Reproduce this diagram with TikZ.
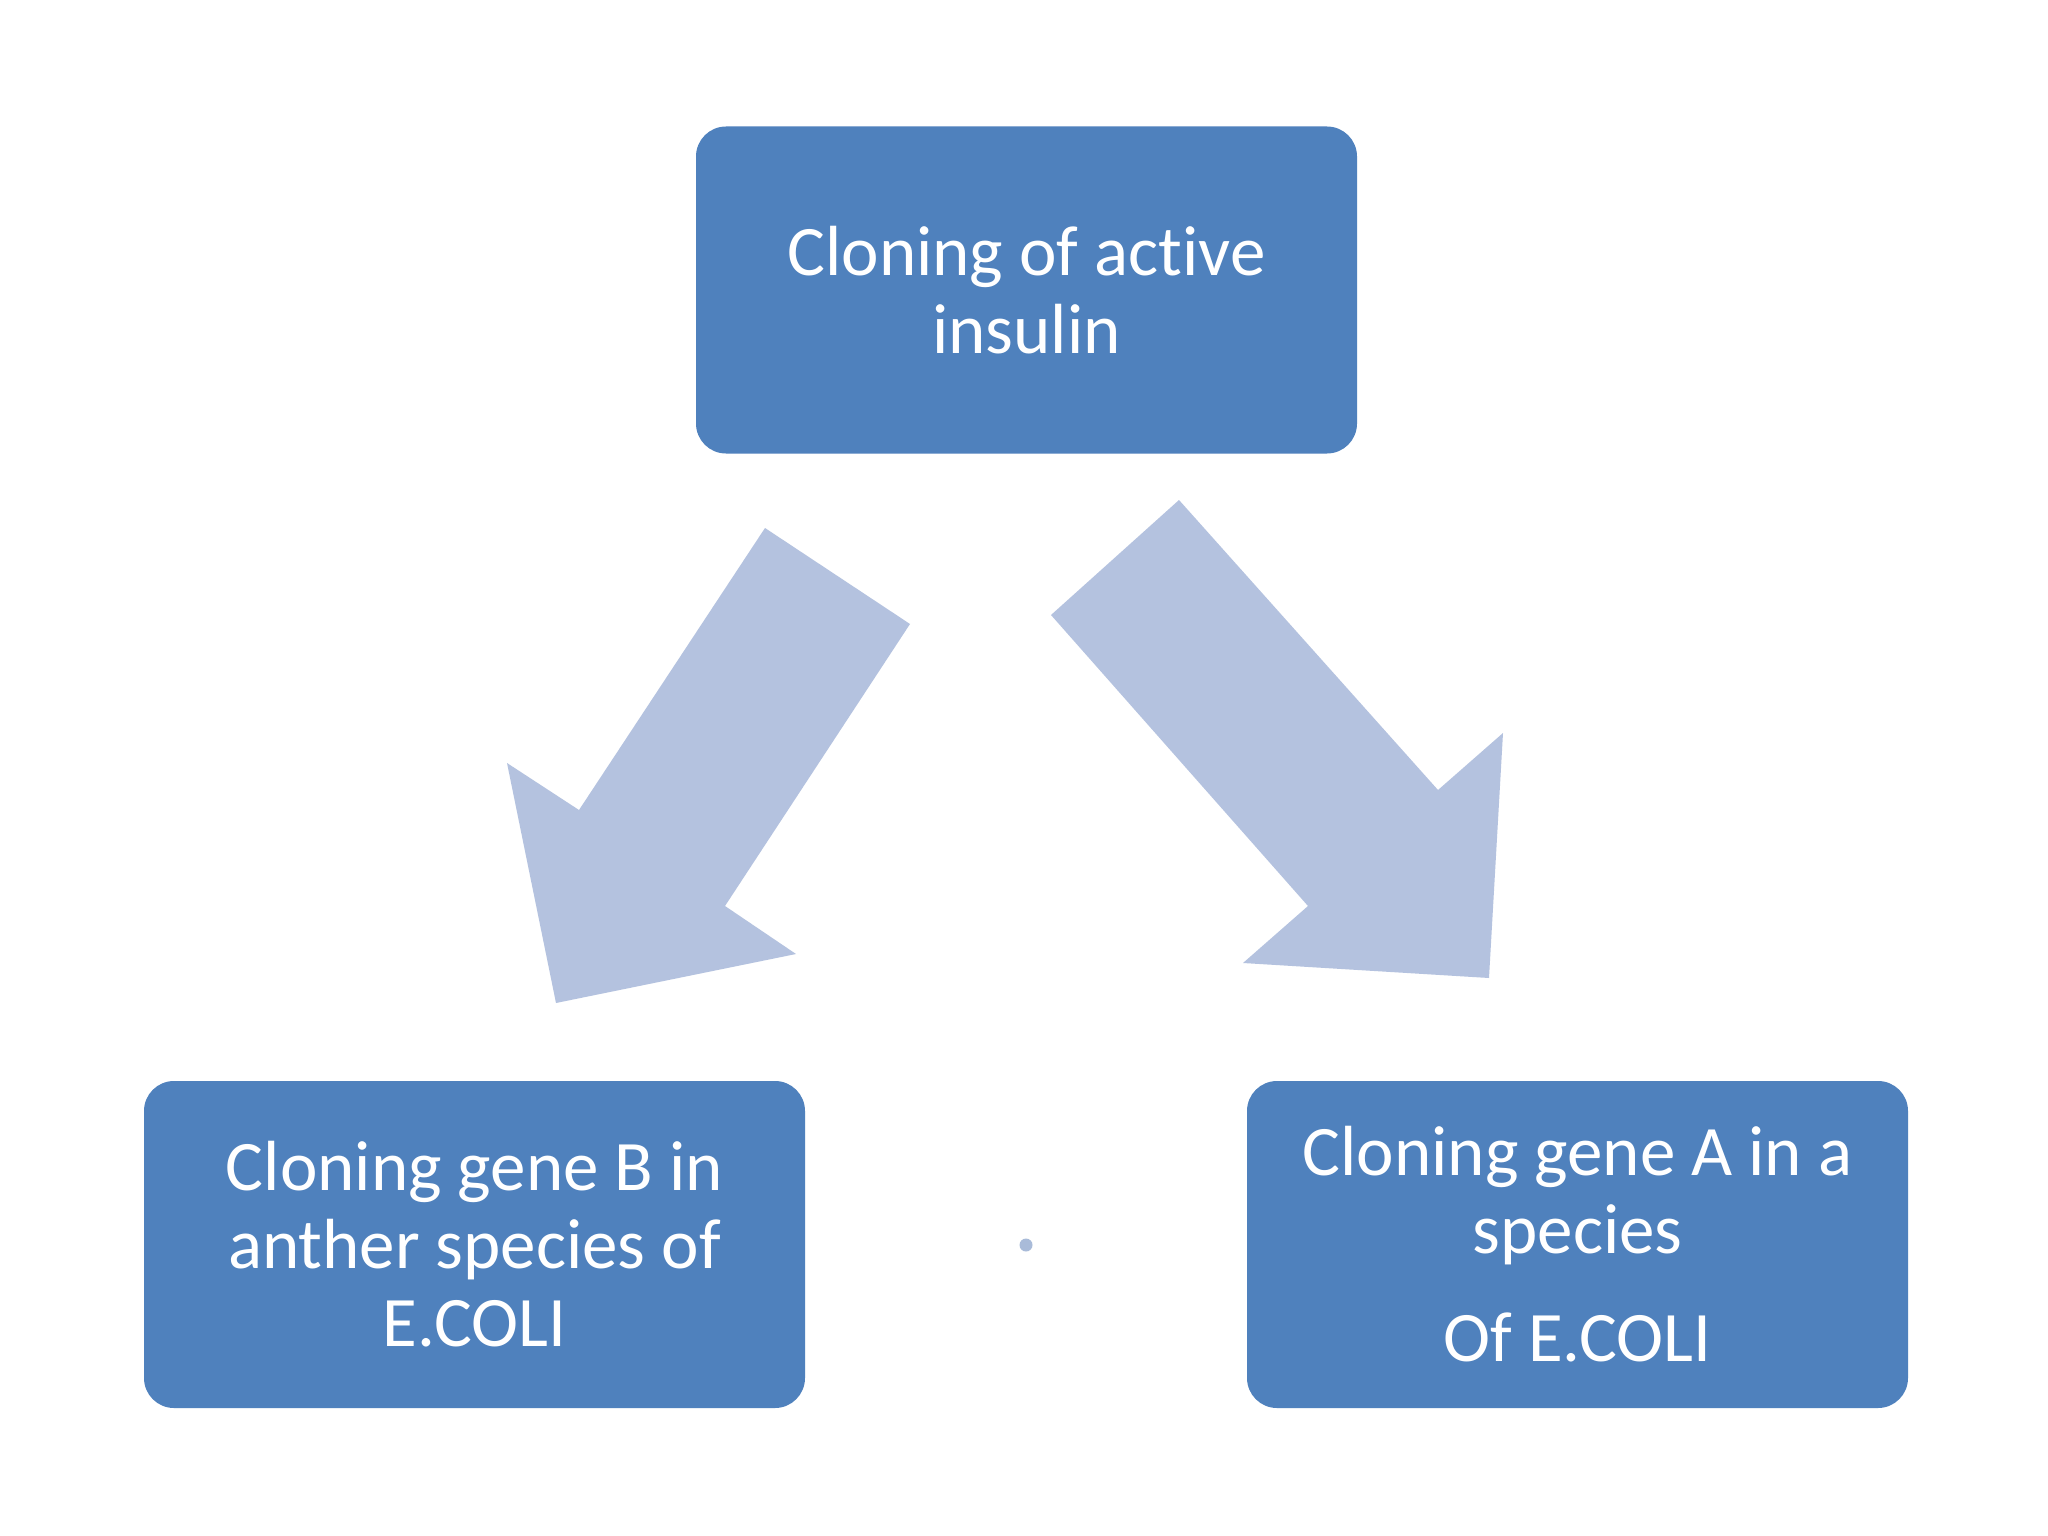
\documentclass[tikz,border=0pt]{standalone}
\usepackage{fontspec}
\setmainfont{Carlito}[Ligatures=NoCommon]
\definecolor{boxblue}{HTML}{4F81BD}
\definecolor{arrowblue}{HTML}{B4C2DF}
\definecolor{dotblue}{HTML}{A9BBD9}
\begin{document}
\begin{tikzpicture}[x=1pt,y=-1pt,
  box/.style={fill=boxblue, rounded corners=30pt, minimum width=661pt, minimum height=327pt,
    text=white, align=center, font=\fontsize{71}{78}\selectfont, inner sep=0pt},
  bigarrow/.style={fill=arrowblue}]
\useasboundingbox (0,0) rectangle (2048,1536);
\fill[white] (0,0) rectangle (2048,1536);
% block arrows
\fill[bigarrow] (765,528) -- (910,624) -- (725,906) -- (796,954) -- (556,1003) -- (507,763) -- (579,810) -- cycle;
\fill[bigarrow] (1179,500) -- (1438,790) -- (1503,733) -- (1489,978) -- (1243,963) -- (1308,906) -- (1051,615) -- cycle;
% boxes
\node[box] (top) at (1026.5,290) {Cloning of active\\insulin};
\node[box] (left) at (474.5,1244.5) {Cloning gene B in\\anther species of\\E.COLI};
\node[box] (right) at (1577.5,1244.5) {Cloning gene A in a\\species\\[30pt]Of E.COLI};
% small dot
\node[circle, fill=dotblue, minimum size=13pt, inner sep=0pt] (dot) at (1026,1245) {};
\end{tikzpicture}
\end{document}
